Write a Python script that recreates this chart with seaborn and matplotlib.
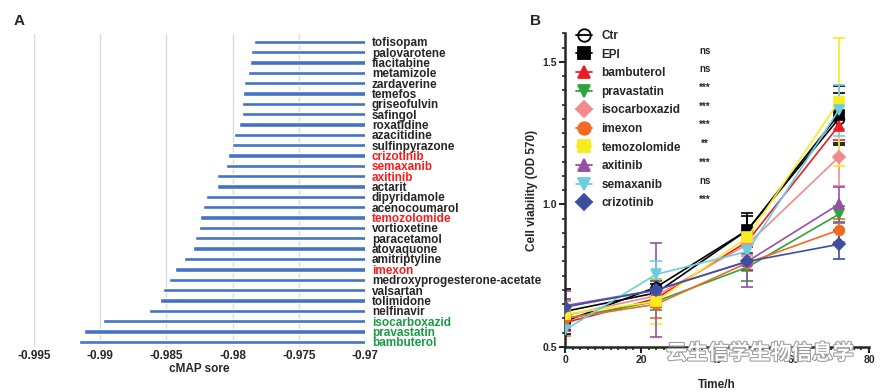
import numpy as np
import pandas as pd
import seaborn as sns
import matplotlib.pyplot as plt
import matplotlib.patheffects as pe
from matplotlib.lines import Line2D
from matplotlib.ticker import MultipleLocator

# panel A data: cMAP scores
drugs = ['tofisopam', 'palovarotene', 'fiacitabine', 'metamizole', 'zardaverine',
         'temefos', 'griseofulvin', 'safingol', 'roxatidine', 'azacitidine',
         'sulfinpyrazone', 'crizotinib', 'semaxanib', 'axitinib', 'actarit',
         'dipyridamole', 'acenocoumarol', 'temozolomide', 'vortioxetine', 'paracetamol',
         'atovaquone', 'amitriptyline', 'imexon', 'medroxyprogesterone-acetate', 'valsartan',
         'tolimidone', 'nelfinavir', 'isocarboxazid', 'pravastatin', 'bambuterol']
scores = [-0.97838, -0.97863, -0.97868, -0.97883, -0.97916,
          -0.97921, -0.97929, -0.97931, -0.97951, -0.97986,
          -0.98004, -0.98034, -0.98047, -0.98118, -0.98118,
          -0.98203, -0.98224, -0.98243, -0.98254, -0.98284,
          -0.98296, -0.98367, -0.98433, -0.98481, -0.98526,
          -0.98551, -0.98629, -0.98977, -0.99119, -0.99157]
red_drugs = ['crizotinib', 'semaxanib', 'axitinib', 'temozolomide', 'imexon']
green_drugs = ['isocarboxazid', 'pravastatin', 'bambuterol']

# panel B data: cell viability
times = [0, 24, 48, 72]
groups = ['Ctr', 'EPI', 'bambuterol', 'pravastatin', 'isocarboxazid',
          'imexon', 'temozolomide', 'axitinib', 'semaxanib', 'crizotinib']
means = {
    'Ctr': [0.59, 0.71, 0.91, 1.30],
    'EPI': [0.625, 0.69, 0.91, 1.315],
    'bambuterol': [0.585, 0.67, 0.87, 1.275],
    'pravastatin': [0.60, 0.66, 0.78, 0.965],
    'isocarboxazid': [0.61, 0.68, 0.86, 1.165],
    'imexon': [0.60, 0.65, 0.795, 0.91],
    'temozolomide': [0.615, 0.66, 0.885, 1.36],
    'axitinib': [0.645, 0.70, 0.80, 1.00],
    'semaxanib': [0.56, 0.755, 0.835, 1.33],
    'crizotinib': [0.64, 0.70, 0.80, 0.86],
}
sds = {
    'Ctr': [0.03, 0.03, 0.05, 0.09],
    'EPI': [0.08, 0.03, 0.06, 0.10],
    'bambuterol': [0.03, 0.03, 0.04, 0.05],
    'pravastatin': [0.02, 0.03, 0.05, 0.03],
    'isocarboxazid': [0.02, 0.03, 0.04, 0.10],
    'imexon': [0.06, 0.05, 0.03, 0.04],
    'temozolomide': [0.03, 0.08, 0.03, 0.225],
    'axitinib': [0.05, 0.165, 0.09, 0.06],
    'semaxanib': [0.06, 0.045, 0.03, 0.09],
    'crizotinib': [0.03, 0.03, 0.03, 0.05],
}
signif = ['', 'ns', 'ns', '***', '***', '***', '**', '***', 'ns', '***']

colors = {'Ctr': 'black', 'EPI': 'black', 'bambuterol': '#ec1c24', 'pravastatin': '#2aa63c',
          'isocarboxazid': '#f4898c', 'imexon': '#f26a21', 'temozolomide': '#f7ec1f',
          'axitinib': '#9650a6', 'semaxanib': '#6ccde2', 'crizotinib': '#3e4fa2'}
markers = {'Ctr': 'o', 'EPI': 's', 'bambuterol': '^', 'pravastatin': 'v',
           'isocarboxazid': 'D', 'imexon': 'o', 'temozolomide': 's',
           'axitinib': '^', 'semaxanib': 'v', 'crizotinib': 'D'}

sns.set_style('white')
plt.rcParams['font.family'] = ['Liberation Sans', 'DejaVu Sans']
plt.rcParams['font.weight'] = 'bold'

fig = plt.figure(figsize=(8.86, 3.92), dpi=100)

# ---- panel A ----
axA = fig.add_axes([0.0384, 0.115, 0.3736, 0.797])
dfA = pd.DataFrame({'drug': drugs, 'score': scores})
sns.barplot(data=dfA, x='score', y='drug', orient='h', color='#4472c4',
            width=0.42, saturation=1, ax=axA, zorder=3)
axA.set_xlim(-0.995, -0.97)
axA.set_ylim(len(drugs) - 0.5, -0.7)
axA.set_xticks([-0.995, -0.99, -0.985, -0.98, -0.975, -0.97])
axA.set_xticklabels(['-0.995', '-0.99', '-0.985', '-0.98', '-0.975', '-0.97'],
                    fontsize=8.5, fontweight='bold')
axA.grid(axis='x', color='#d9d9d9', linewidth=1, zorder=0)
axA.set_axisbelow(True)
axA.yaxis.tick_right()
axA.tick_params(axis='y', length=0, pad=5, labelsize=8.5)
axA.tick_params(axis='x', length=0, pad=2)
for lab in axA.get_yticklabels():
    lab.set_fontweight('bold')
    if lab.get_text() in red_drugs:
        lab.set_color('#ff1a1a')
    elif lab.get_text() in green_drugs:
        lab.set_color('#1a9a46')
for s in axA.spines.values():
    s.set_visible(False)
axA.set_ylabel('')
axA.set_xlabel('cMAP sore', fontsize=8.5, fontweight='bold', labelpad=1)
fig.text(0.015, 0.935, 'A', fontsize=11, fontweight='bold')

# ---- panel B ----
axB = fig.add_axes([0.6377, 0.1148, 0.3431, 0.8])
handles = []
for g in groups:
    c = colors[g]
    filled = g != 'Ctr'
    axB.errorbar(times, means[g], yerr=sds[g], fmt='none', ecolor=c,
                 elinewidth=1.2, capsize=4, capthick=1.2, zorder=2)
    sns.lineplot(x=times, y=means[g], color=c, marker=markers[g], markersize=7 if markers[g] != 'D' else 6,
                 markerfacecolor=c if filled else 'none', markeredgecolor=c,
                 markeredgewidth=1.2, linewidth=1.2, ax=axB, zorder=3)
    handles.append(Line2D([0], [0], color=c, marker=markers[g], markersize=9 if markers[g] != 'D' else 8,
                          markerfacecolor=c if filled else 'none', markeredgecolor=c,
                          markeredgewidth=1.3, linewidth=1.3))
axB.set_xlim(0, 80)
axB.set_ylim(0.5, 1.6)
axB.xaxis.set_major_locator(MultipleLocator(20))
axB.xaxis.set_minor_locator(MultipleLocator(2))
axB.yaxis.set_major_locator(MultipleLocator(0.5))
axB.yaxis.set_minor_locator(MultipleLocator(0.05))
axB.yaxis.set_major_formatter(plt.FuncFormatter(lambda v, p: f'{v:.1f}'))
axB.tick_params(which='major', length=4, width=1.5, labelsize=7.5, direction='out',
                left=True, bottom=True, pad=2)
axB.tick_params(which='minor', length=2.5, width=1.2, direction='out', left=True, bottom=True)
for lab in axB.get_xticklabels() + axB.get_yticklabels():
    lab.set_fontweight('bold')
axB.spines['top'].set_visible(False)
axB.spines['right'].set_visible(False)
axB.spines['left'].set_linewidth(1.8)
axB.spines['bottom'].set_linewidth(1.8)
axB.set_xlabel('Time/h', fontsize=8.5, fontweight='bold', labelpad=10)
axB.set_ylabel('Cell viability (OD 570)', fontsize=8.5, fontweight='bold', labelpad=3)
leg = axB.legend(handles, groups, loc='upper left', bbox_to_anchor=(0.0, 1.045),
                 frameon=False, handlelength=1.4, handletextpad=0.8,
                 labelspacing=0.56, prop={'weight': 'bold', 'size': 8.5})
fig.canvas.draw()
inv = axB.transAxes.inverted()
for t, s in zip(leg.get_texts(), signif):
    if s:
        bb = t.get_window_extent()
        y = inv.transform((0, (bb.y0 + bb.y1) / 2))[1]
        axB.text(0.46, y + 0.012, s, transform=axB.transAxes, ha='center', va='center',
                 fontsize=7, fontweight='bold')
fig.text(0.598, 0.935, 'B', fontsize=11, fontweight='bold')

# watermark
fig.text(0.858, 0.10, '云生信学生物信息学', fontsize=15, ha='center', va='center',
         color='white', family=['Noto Sans CJK SC', 'DejaVu Sans'], zorder=10,
         path_effects=[pe.withStroke(linewidth=1.5, foreground='#9a9a9a')])

fig.savefig('out.png', dpi=100)
